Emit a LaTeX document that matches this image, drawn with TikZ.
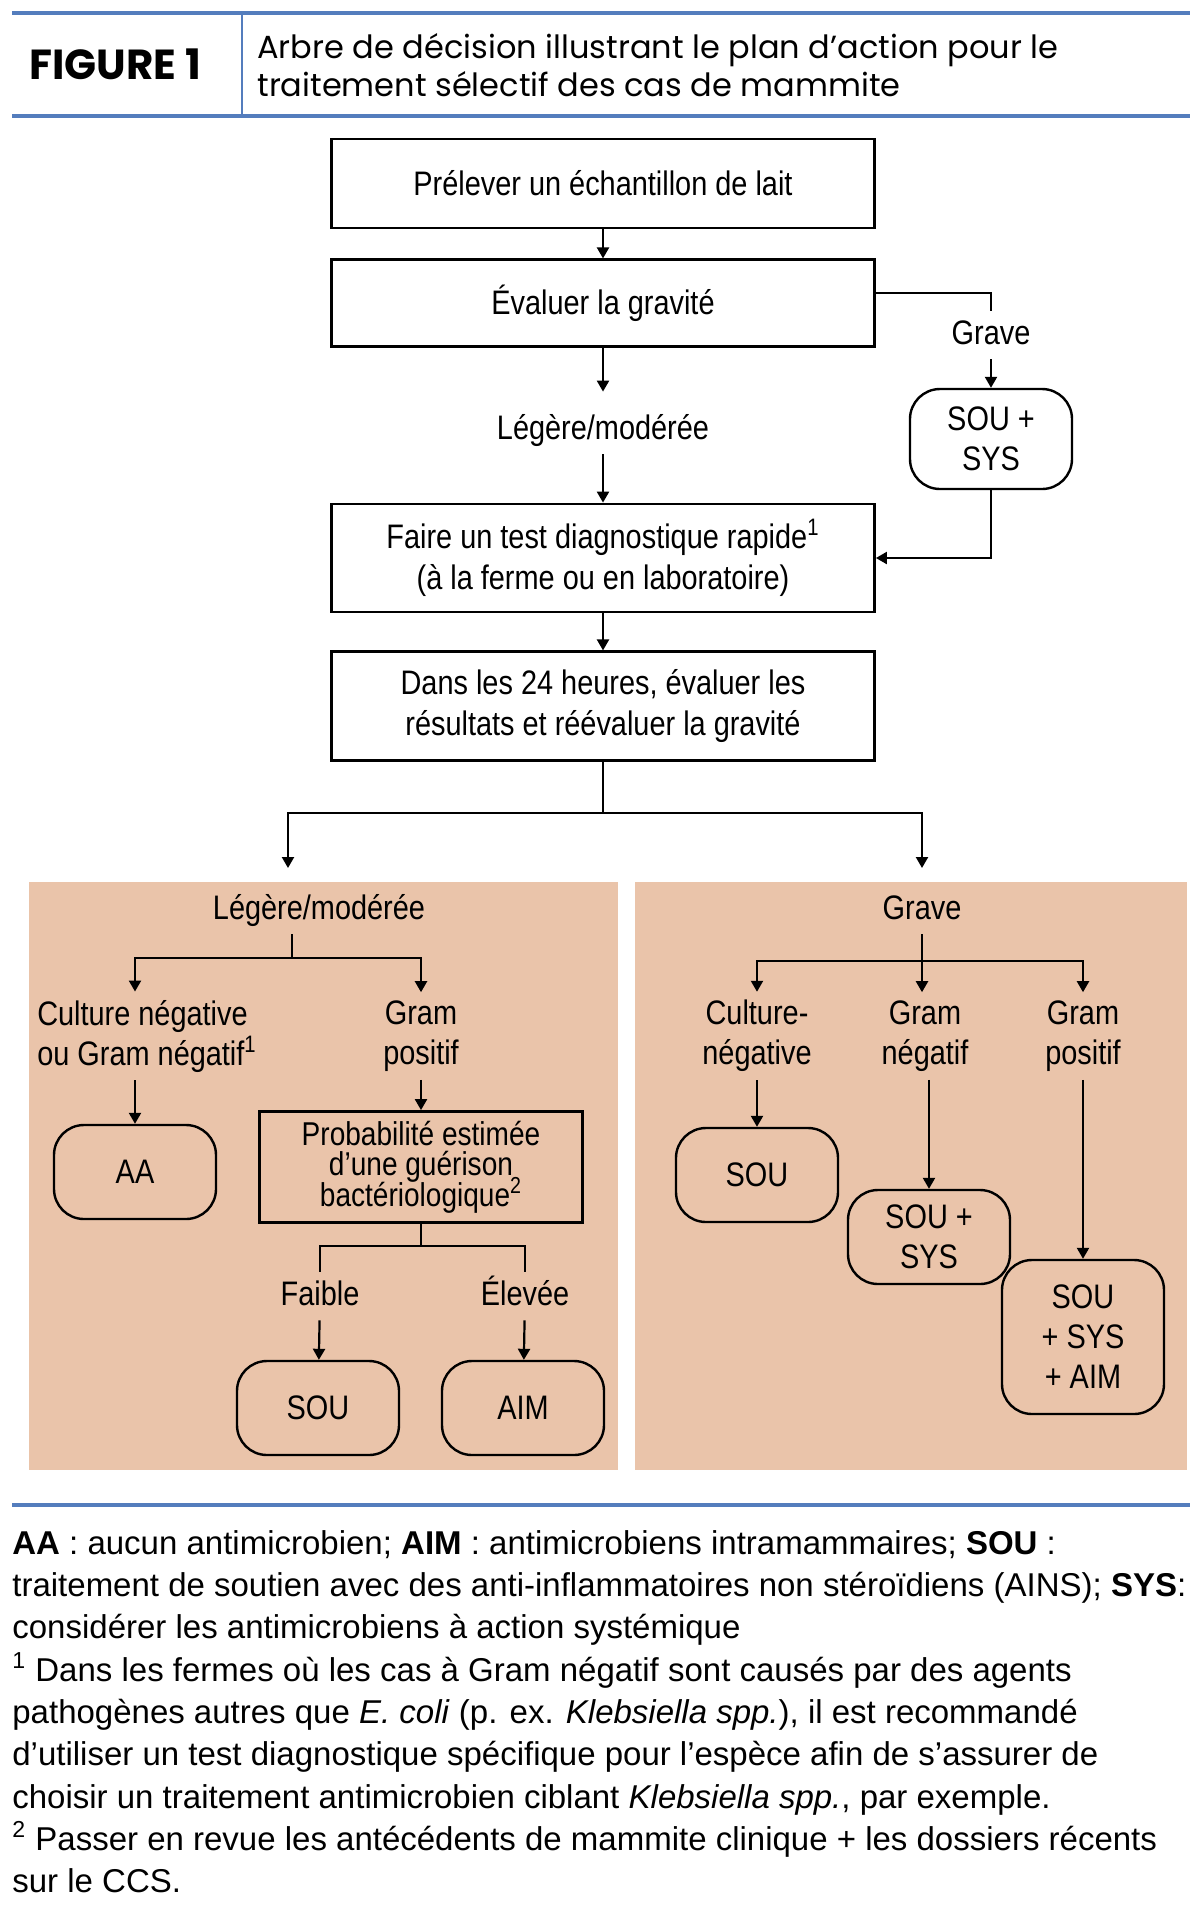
\documentclass[tikz,border=0pt]{standalone}
\usepackage{fontspec}
\setmainfont{Liberation Sans}
\newfontfamily\flowfont{Liberation Sans}[FakeStretch=0.85]
\newfontfamily\headfont{Poppins}
\usetikzlibrary{arrows.meta,positioning}
\definecolor{rulebl}{RGB}{84,125,189}
\definecolor{panelc}{RGB}{234,196,170}
\newcommand\tightskip{\lineskiplimit=-10pt\relax}

\begin{document}
\begin{tikzpicture}[
  x=0.5pt, y=-0.5pt,
  every node/.style={inner sep=0pt},
  action/.style={rectangle, draw, line width=1.4pt, minimum width=271.5pt,
                 align=center, font=\flowfont\fontsize{17}{20.5}\selectfont},
  outcome/.style={rectangle, draw, rounded corners=15pt, line width=1.2pt,
                  minimum width=81pt, minimum height=47pt, align=center,
                  font=\flowfont\fontsize{17}{20}\selectfont},
  branch/.style={align=center, inner ysep=4pt,
                 font=\flowfont\fontsize{17}{20}\selectfont},
  tag/.style={text height=12.5pt, text depth=3.5pt, inner ysep=4pt,
              font=\flowfont\fontsize{17}{20}\selectfont},
  panel/.style={rectangle, fill=panelc, minimum width=294.5pt, minimum height=294pt},
  rule/.style={draw=rulebl, line width=1.6pt},
  arrow/.style={-{Triangle[length=5.5pt,width=6pt]}, line width=1.1pt},
  link/.style={line width=1.1pt}
]
  \useasboundingbox (0,0) rectangle (1200,1908);

  % Header
  \draw[rule] (12,13) -- (1190,13);
  \draw[rule] (12,116) -- (1190,116);
  \draw[draw=rulebl, line width=0.6pt] (242,13) -- (242,116);
  \node[font=\headfont\bfseries\fontsize{21}{24}\selectfont] (figno) at (115,64) {FIGURE 1};
  \node[anchor=west, align=left, font=\headfont\fontsize{16}{19}\selectfont] (title) at (257,65)
    {Arbre de décision illustrant le plan d’action pour le\\traitement sélectif des cas de mammite};

  % Main column
  \node[action, minimum height=44.5pt] (prel) at (603,183.5) {Prélever un échantillon de lait};
  \node[action, minimum height=43.5pt, below=14.5pt of prel] (eval) {Évaluer la gravité};
  \node[tag] (legA) at (603,430) {Légère/modérée};
  \node[action, minimum height=54pt] (test) at (603,558)
    {Faire un test diagnostique rapide\textsuperscript{1}\\(à la ferme ou en laboratoire)};
  \node[action, minimum height=54.5pt, below=18.5pt of test] (reval)
    {Dans les 24 heures, évaluer les\\résultats et réévaluer la gravité};
  \node[tag] (gravA) at (991,335) {Grave};
  \node[outcome, minimum height=50pt] (sysA) at (991,439) {SOU +\\SYS};

  \draw[arrow] (prel) -- (eval);
  \draw[arrow, shorten >=7pt] (eval) -- (legA);
  \draw[arrow] (legA) -- (test);
  \draw[link] ([yshift=5pt]eval.east) -| (gravA);
  \draw[arrow] (gravA) -- (sysA);
  \draw[arrow] (sysA) |- (test);
  \draw[arrow] (test) -- (reval);

  % Split towards the two panels
  \coordinate (sp) at (603,813);
  \coordinate (spL) at (288,868);
  \coordinate (spR) at (922,868);
  \draw[link] (reval) -- (sp);
  \draw[arrow] (sp) -| (spL);
  \draw[arrow] (sp) -| (spR);

  \node[panel] (panL) at (323.5,1176) {};
  \node[panel, minimum width=276pt] (panR) at (911,1176) {};

  % Left panel: mild / moderate
  \node[tag] (legB) at (319,910) {Légère/modérée};
  \coordinate (jL) at (292,958);
  \node[branch, align=left] (cultL) at (147,1036) {Culture négative\\ou Gram négatif\textsuperscript{1}};
  \node[branch] (gpL) at (421,1036) {Gram\\positif};
  \node[outcome] (aaL) at (135,1172) {AA};
  \node[action, minimum width=161.5pt, minimum height=55.5pt,
        font=\flowfont\fontsize{16.5}{15.3}\selectfont\tightskip] (probL) at (421,1167)
    {Probabilité estimée\\d’une guérison\\bactériologique\textsuperscript{2}};
  \coordinate (jP) at (421,1246);
  \node[tag] (faib) at (320,1296) {Faible};
  \node[tag] (elev) at (525,1296) {Élevée};
  \node[outcome] (souL) at (318,1408) {SOU};
  \node[outcome] (aimL) at (523,1408) {AIM};

  \draw[link] (legB.south -| jL) -- (jL);
  \draw[arrow] (jL) -| (cultL.north -| aaL);
  \draw[arrow] (jL) -| (gpL);
  \draw[arrow] (cultL.south -| aaL) -- (aaL);
  \draw[arrow] (gpL) -- (probL);
  \draw[link] (probL) -- (jP);
  \draw[link] (jP) -| (faib);
  \draw[link] (jP) -| (elev);
  \draw[arrow] (faib) -- (souL);
  \draw[arrow] (elev) -- (aimL);

  % Right panel: severe
  \node[tag] (gravB) at (922,910) {Grave};
  \coordinate (jR) at (922,961);
  \node[branch] (cnR) at (757,1036) {Culture-\\négative};
  \node[branch] (gnR) at (925,1036) {Gram\\négatif};
  \node[branch] (gpR) at (1083,1036) {Gram\\positif};
  \node[outcome] (souR) at (757,1175) {SOU};
  \node[outcome] (sysR) at (929,1237) {SOU +\\SYS};
  \node[outcome, minimum height=77pt] (allR) at (1083,1337) {SOU\\+ SYS\\+ AIM};

  \draw[arrow] (gravB) -- (gravB.south |- gnR.north);
  \draw[arrow] (jR) -| (cnR);
  \draw[arrow] (jR) -| (gpR);
  \draw[arrow] (cnR) -- (souR);
  \draw[arrow] (gnR.south -| sysR) -- (sysR);
  \draw[arrow] (gpR) -- (allR);

  % Legend
  \draw[rule] (12,1505) -- (1190,1505);
  \node[anchor=north west, align=left, font=\fontsize{16.5}{21.15}\selectfont] (legend) at (12,1530)
    {\textbf{AA} : aucun antimicrobien; \textbf{AIM} : antimicrobiens intramammaires; \textbf{SOU} :\\
     traitement de soutien avec des anti-inflammatoires non stéroïdiens (AINS); \textbf{SYS}:\\
     considérer les antimicrobiens à action systémique\\
     \textsuperscript{1} Dans les fermes où les cas à Gram négatif sont causés par des agents\\
     pathogènes autres que \textit{E. coli} (p. ex. \textit{Klebsiella spp.}), il est recommandé\\
     d’utiliser un test diagnostique spécifique pour l’espèce afin de s’assurer de\\
     choisir un traitement antimicrobien ciblant \textit{Klebsiella spp.}, par exemple.\\
     \textsuperscript{2} Passer en revue les antécédents de mammite clinique + les dossiers récents\\
     sur le CCS.};
\end{tikzpicture}
\end{document}
